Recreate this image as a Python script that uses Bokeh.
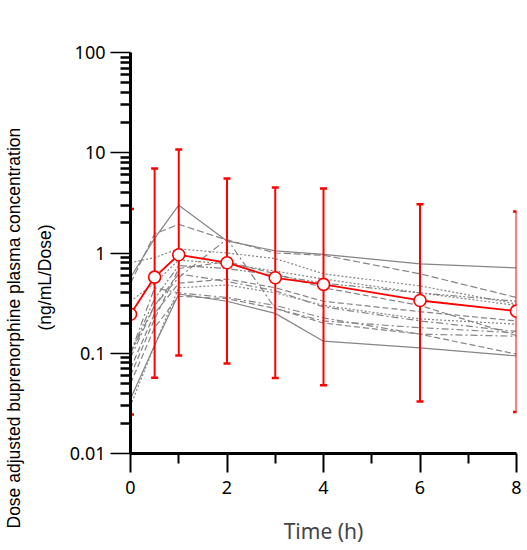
from bokeh.plotting import figure
from bokeh.models import (Range1d, FixedTicker, CustomJSTickFormatter, Title,
                          ColumnDataSource)
from bokeh.embed import file_html
from bokeh.resources import INLINE

# ---------------- data ----------------
times = [0, 0.5, 1, 2, 3, 4, 6, 8]

subjects = [
    [0.57, 1.40, 3.00, 1.32, 1.05, 0.97, 0.78, 0.71],
    [0.50, 1.55, 1.93, 1.35, 1.00, 0.95, 0.62, 0.36],
    [0.10, 0.30, 0.57, 1.38, 0.28, 0.21, 0.18, 0.16],
    [0.035, 0.12, 0.39, 0.33, 0.25, 0.132, 0.113, 0.094],
    [0.80, 0.90, 1.10, 1.00, 0.88, 0.62, 0.47, 0.31],
    [0.10, 0.35, 0.75, 0.70, 0.60, 0.50, 0.40, 0.33],
    [0.07, 0.25, 0.50, 0.55, 0.45, 0.33, 0.26, 0.21],
    [0.03, 0.12, 0.45, 0.48, 0.40, 0.30, 0.22, 0.195],
    [0.09, 0.30, 0.62, 0.52, 0.42, 0.29, 0.21, 0.165],
    [0.06, 0.22, 0.70, 0.82, 0.62, 0.45, 0.30, 0.15],
    [0.33, 0.50, 0.85, 0.78, 0.66, 0.55, 0.40, 0.30],
    [0.10, 0.45, 0.40, 0.36, 0.30, 0.225, 0.155, 0.148],
    [0.05, 0.18, 0.37, 0.35, 0.28, 0.20, 0.155, 0.098],
]
subject_dashes = ["solid", "7 3", "7 3 2 3", "solid", "2 2", "7 2 2 2 2 2",
                  "6 3", "2 2", "7 3 2 3", "6 3", "2 2", "7 3 2 3", "6 3"]

mean_conc = [0.245, 0.575, 0.96, 0.80, 0.566, 0.486, 0.336, 0.263]
upper_err = [2.75, 6.97, 10.8, 5.53, 4.5, 4.4, 3.07, 2.59]
lower_err = [0.0245, 0.057, 0.095, 0.079, 0.0567, 0.048, 0.033, 0.026]

x_ticks = [0, 2, 4, 6, 8]
x_minor = [1, 3, 5, 7]
y_ticks = [0.01, 0.1, 1, 10, 100]
y_minor = [m * d for d in [0.01, 0.1, 1, 10] for m in range(2, 10)]

x_label = "Time (h)"
y_label_1 = "Dose adjusted buprenorphine plasma concentration"
y_label_2 = "(ng/mL/Dose)"

# ---------------- figure ----------------
p = figure(frame_width=386, frame_height=401,
           min_border_left=130, min_border_right=9,
           min_border_top=52, min_border_bottom=95,
           y_axis_type="log",
           x_range=Range1d(0, 8), y_range=Range1d(0.01, 100),
           output_backend="svg", toolbar_location=None)
p.outline_line_color = None
p.xgrid.visible = False
p.ygrid.visible = False
p.background_fill_color = "white"

GREY = "#858585"
for vals, dash in zip(subjects, subject_dashes):
    p.line(times, vals, line_color=GREY, line_width=1.2, line_dash=dash)

RED = "#ff0000"
src = ColumnDataSource(dict(t=times, m=mean_conc, lo=lower_err, hi=upper_err))
p.segment(x0="t", y0="lo", x1="t", y1="hi", source=src,
          line_color=RED, line_width=2)
p.scatter(x="t", y="hi", source=src, marker="dash", size=7,
          line_color=RED, line_width=2.5)
p.scatter(x="t", y="lo", source=src, marker="dash", size=7,
          line_color=RED, line_width=2.5)
p.line(x="t", y="m", source=src, line_color=RED, line_width=1.8)
p.scatter(x="t", y="m", source=src, marker="circle", size=12,
          line_color=RED, line_width=1.6, fill_color="white")

# ---------------- axes ----------------
TICK_FONT = "Noto Sans"
xa = p.xaxis[0]
xa.ticker = FixedTicker(ticks=x_ticks, minor_ticks=x_minor)
xa.axis_line_width = 3
xa.major_tick_out = 19
xa.major_tick_in = 0
xa.minor_tick_out = 10
xa.minor_tick_in = 0
xa.major_tick_line_width = 2
xa.minor_tick_line_width = 2
xa.major_label_standoff = 8
xa.major_label_text_font = TICK_FONT
xa.major_label_text_font_size = "18px"
xa.major_label_text_color = "black"
xa.axis_label = x_label
xa.axis_label_text_font = TICK_FONT
xa.axis_label_text_font_style = "normal"
xa.axis_label_text_font_size = "21px"
xa.axis_label_standoff = 20

ya = p.yaxis[0]
ya.ticker = FixedTicker(ticks=y_ticks, minor_ticks=y_minor)
ya.formatter = CustomJSTickFormatter(code="return String(parseFloat(tick.toPrecision(3)));")
ya.axis_line_width = 3
ya.major_tick_out = 20
ya.major_tick_in = 0
ya.minor_tick_out = 10
ya.minor_tick_in = 0
ya.major_tick_line_width = 1.5
ya.minor_tick_line_width = 2.5
ya.major_label_standoff = 5
ya.major_label_text_font = TICK_FONT
ya.major_label_text_font_size = "18px"
ya.major_label_text_color = "black"

# y-axis title: two rotated title lines in the left panel
LBL_FONT = "Liberation Sans"
t2 = Title(text=y_label_2, align="left", offset=123, standoff=24,
           text_font=LBL_FONT, text_font_size="17.5px",
           text_font_style="normal", text_color="black")
t1 = Title(text=y_label_1, align="left", offset=-75, standoff=-6,
           text_font=LBL_FONT, text_font_size="17.5px",
           text_font_style="normal", text_color="black")
p.add_layout(t2, "left")
p.add_layout(t1, "left")

open("out.html", "w").write(file_html(p, INLINE))
